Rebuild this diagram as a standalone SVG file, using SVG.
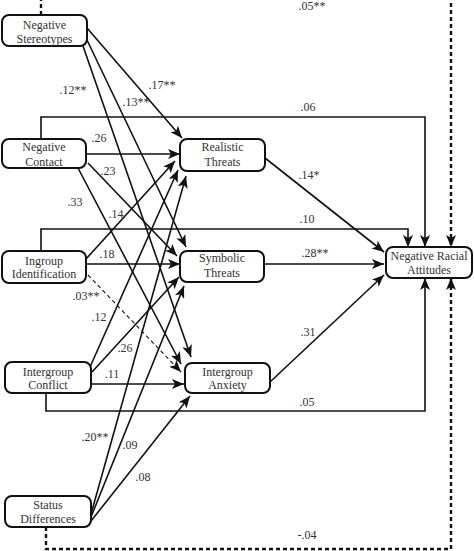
<svg xmlns="http://www.w3.org/2000/svg" width="474" height="551" viewBox="0 0 474 551">
<style>
.box{fill:#fff;stroke:#111;stroke-width:2}
.nt{font-family:"Liberation Serif","Times New Roman",serif;font-size:12px;fill:#333;text-anchor:middle}
.lb{font-family:"Liberation Serif","Times New Roman",serif;font-size:12px;fill:#333;text-anchor:middle}
.c{fill:none;stroke:#111;stroke-width:1.6}
.a{marker-end:url(#ah)}
.dd{stroke-dasharray:4,3;stroke-width:2.4}
.ds{stroke-dasharray:4,3;stroke-width:1.1}
</style>
<defs>
<marker id="ah" markerUnits="userSpaceOnUse" markerWidth="13" markerHeight="10" refX="12" refY="5" orient="auto">
<path d="M0,0 L12,5 L0,10 L3,5 Z" fill="#111"/>
</marker>
</defs>
<rect width="474" height="551" fill="#fff"/>
<g id="connectors">
<path class="c dd a" d="M41,15 V-3 H451 V247"/>
<path class="c a" d="M41,139 V117 H425 V247"/>
<path class="c a" d="M41,251 V229 H408 V247"/>
<path class="c a" d="M46,393 V411 H425 V278"/>
<path class="c dd a" d="M46,527 V549 H451 V278"/>
<line class="c a" x1="87" y1="28" x2="182" y2="138"/>
<line class="c a" x1="87" y1="40" x2="186" y2="247"/>
<line class="c a" x1="83" y1="46" x2="191" y2="357"/>
<line class="c a" x1="86" y1="154" x2="180" y2="154"/>
<line class="c a" x1="88" y1="163" x2="177" y2="256"/>
<line class="c a" x1="78" y1="168" x2="181" y2="364"/>
<line class="c a" x1="86" y1="259" x2="175" y2="161"/>
<line class="c a" x1="86" y1="264" x2="180" y2="264"/>
<line class="c ds a" x1="88" y1="275" x2="181" y2="372"/>
<line class="c a" x1="90" y1="367" x2="178" y2="170"/>
<line class="c a" x1="92" y1="372" x2="179" y2="277"/>
<line class="c a" x1="91" y1="384" x2="184" y2="384"/>
<line class="c a" x1="91" y1="514" x2="186" y2="176"/>
<line class="c a" x1="91" y1="517" x2="184" y2="286"/>
<line class="c a" x1="91" y1="521" x2="190" y2="396"/>
<line class="c a" x1="265" y1="158" x2="384" y2="252"/>
<line class="c a" x1="264" y1="264" x2="384" y2="264"/>
<line class="c a" x1="270" y1="382" x2="384" y2="275"/>
</g>
<g id="labels">
<text class="lb" x="312" y="10">.05**</text>
<text class="lb" x="308" y="111">.06</text>
<text class="lb" x="309" y="179">.14*</text>
<text class="lb" x="307" y="223">.10</text>
<text class="lb" x="315" y="257">.28**</text>
<text class="lb" x="308" y="336">.31</text>
<text class="lb" x="307" y="406">.05</text>
<text class="lb" x="307" y="539">-.04</text>
<text class="lb" x="162" y="89">.17**</text>
<text class="lb" x="136" y="106">.13**</text>
<text class="lb" x="73" y="94">.12**</text>
<text class="lb" x="99" y="142">.26</text>
<text class="lb" x="108" y="175">.23</text>
<text class="lb" x="75" y="206">.33</text>
<text class="lb" x="116" y="218">.14</text>
<text class="lb" x="107" y="258">.18</text>
<text class="lb" x="86" y="300">.03**</text>
<text class="lb" x="99" y="321">.12</text>
<text class="lb" x="125" y="352">.26</text>
<text class="lb" x="112" y="378">.11</text>
<text class="lb" x="95" y="441">.20**</text>
<text class="lb" x="130" y="449">.09</text>
<text class="lb" x="143" y="481">.08</text>
</g>
<g id="negative-stereotypes">
<rect class="box" x="2" y="15" width="85" height="31" rx="7"/>
<text class="nt" x="44.5" y="29">Negative</text>
<text class="nt" x="44.5" y="43">Stereotypes</text>
</g>
<g id="negative-contact">
<rect class="box" x="2" y="139" width="84" height="29" rx="7"/>
<text class="nt" x="44" y="151">Negative</text>
<text class="nt" x="44" y="166">Contact</text>
</g>
<g id="ingroup-identification">
<rect class="box" x="2" y="251" width="84" height="32" rx="7"/>
<text class="nt" x="44" y="265">Ingroup</text>
<text class="nt" x="44" y="278">Identification</text>
</g>
<g id="intergroup-conflict">
<rect class="box" x="5" y="362" width="86" height="31" rx="7"/>
<text class="nt" x="48" y="376">Intergroup</text>
<text class="nt" x="48" y="389">Conflict</text>
</g>
<g id="status-differences">
<rect class="box" x="5" y="496" width="86" height="31" rx="7"/>
<text class="nt" x="48" y="509">Status</text>
<text class="nt" x="48" y="523">Differences</text>
</g>
<g id="realistic-threats">
<rect class="box" x="180" y="139" width="85" height="32" rx="7"/>
<text class="nt" x="222.5" y="151">Realistic</text>
<text class="nt" x="222.5" y="166">Threats</text>
</g>
<g id="symbolic-threats">
<rect class="box" x="180" y="251" width="84" height="31" rx="7"/>
<text class="nt" x="222" y="262">Symbolic</text>
<text class="nt" x="222" y="277">Threats</text>
</g>
<g id="intergroup-anxiety">
<rect class="box" x="185" y="363" width="85" height="30" rx="7"/>
<text class="nt" x="227.5" y="376">Intergroup</text>
<text class="nt" x="227.5" y="389">Anxiety</text>
</g>
<g id="negative-racial-attitudes">
<rect class="box" x="386" y="247" width="86" height="31" rx="7"/>
<text class="nt" x="429" y="260">Negative Racial</text>
<text class="nt" x="429" y="274">Attitudes</text>
</g>
</svg>
